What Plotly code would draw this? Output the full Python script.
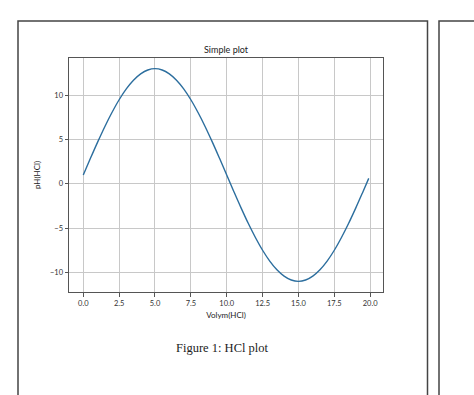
import plotly.graph_objects as go

# Data
volym = [0.0, 0.5, 1.0, 1.5, 2.0, 2.5, 3.0, 3.5, 4.0, 4.5, 5.0,
         5.5, 6.0, 6.5, 7.0, 7.5, 8.0, 8.5, 9.0, 9.5, 10.0,
         10.5, 11.0, 11.5, 12.0, 12.5, 13.0, 13.5, 14.0, 14.5, 15.0,
         15.5, 16.0, 16.5, 17.0, 17.5, 18.0, 18.5, 19.0, 19.5, 19.9]
ph = [1.0, 2.88, 4.71, 6.45, 8.05, 9.49, 10.71, 11.69, 12.41, 12.85, 13.0,
      12.85, 12.41, 11.69, 10.71, 9.49, 8.05, 6.45, 4.71, 2.88, 1.0,
      -0.88, -2.71, -4.45, -6.05, -7.49, -8.71, -9.69, -10.41, -10.85, -11.0,
      -10.85, -10.41, -9.69, -8.71, -7.49, -6.05, -4.45, -2.71, -0.88, 0.62]
x_ticks = [0, 2.5, 5, 7.5, 10, 12.5, 15, 17.5, 20]
y_ticks = [-10, -5, 0, 5, 10]
y_labels = ["\u221210", "\u22125", "0", "5", "10"]

W, H = 474, 395
L, R, T, B = 69, 383, 58, 292

def px(x):
    return (x - L) / (R - L)

def py(y):
    return (B - y) / (B - T)

fig = go.Figure()
fig.add_trace(go.Scatter(x=volym, y=ph, mode="lines", line_shape="spline",
                         line=dict(color="#2c6e9e", width=1.4),
                         showlegend=False, hoverinfo="skip"))

sans = "Lato, DejaVu Sans, sans-serif"
axis_common = dict(
    showline=True, mirror=True, linecolor="#555555", linewidth=1,
    showgrid=True, gridcolor="#c8c8c8", gridwidth=0.8,
    zeroline=False, ticks="outside", ticklen=3.5, tickwidth=0.8,
    tickcolor="#555555", tickfont=dict(family=sans, size=7.5, color="#333333"),
)

fig.update_layout(
    width=W, height=H,
    margin=dict(l=L, r=W - R, t=T, b=H - B),
    paper_bgcolor="white", plot_bgcolor="white",
    xaxis=dict(range=[-0.995, 20.895], tickvals=x_ticks, tickformat=".1f",
               title=dict(text="Volym(HCl)", font=dict(family=sans, size=8, color="#222222"),
                          standoff=5),
               **axis_common),
    yaxis=dict(range=[-12.2, 14.2], tickvals=y_ticks, ticktext=y_labels,
               title=dict(text="pH(HCl)", font=dict(family=sans, size=8, color="#222222"),
                          standoff=8),
               **axis_common),
)

# Title
fig.add_annotation(text="Simple plot", xref="paper", yref="paper",
                   x=0.5, y=py(50), xanchor="center", yanchor="middle",
                   showarrow=False, font=dict(family=sans, size=9, color="#222222"))
# Caption
fig.add_annotation(text="Figure 1: HCl plot", xref="paper", yref="paper",
                   x=px(222), y=py(348), xanchor="center", yanchor="middle",
                   showarrow=False,
                   font=dict(family="Liberation Serif, DejaVu Serif, serif", size=12.5,
                             color="#222222"))

# Page frames
fig.add_shape(type="rect", xref="paper", yref="paper",
              x0=px(18), x1=px(427.5), y0=py(420), y1=py(21),
              line=dict(color="#444444", width=1.5), layer="below")
fig.add_shape(type="rect", xref="paper", yref="paper",
              x0=px(439), x1=px(500), y0=py(420), y1=py(21),
              line=dict(color="#444444", width=1.5), layer="below")

fig.write_html("out.html", config={"displayModeBar": False},
               post_script="document.body.style.margin='0';")
